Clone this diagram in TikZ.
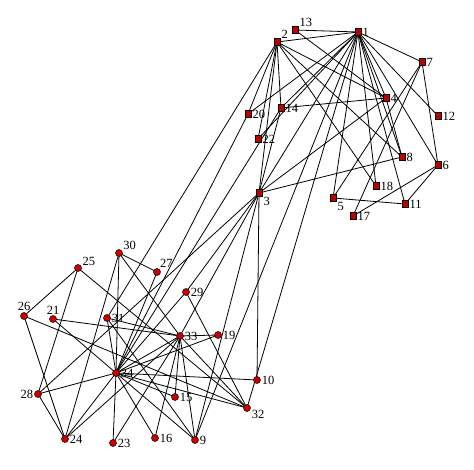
\documentclass[tikz,border=0pt]{standalone}
\usepackage{fontspec}
\setmainfont{Liberation Serif}
\usetikzlibrary{backgrounds}
\begin{document}
\begin{tikzpicture}[x=1pt,y=-1pt,
  sq/.style={draw=black,fill=red!75!black,line width=0.5pt,minimum size=6.5pt,inner sep=0pt,rectangle},
  ci/.style={draw=black,fill=red!80!black,line width=0.5pt,minimum size=7pt,inner sep=0pt,circle},
  every label/.style={font=\fontsize{12.5}{12.5}\selectfont,inner sep=1pt},
  label distance=0pt,
  ed/.style={line width=0.8pt,black}]
\useasboundingbox (0,0) rectangle (474,470);
% faction squares
\node[sq,label={right:1}] (n1) at (358,32) {};
\node[sq,label={30:2}] (n2) at (277,42) {};
\node[sq,label={below right:3}] (n3) at (259,193) {};
\node[sq,label={right:4}] (n4) at (386,98) {};
\node[sq,label={below right:5}] (n5) at (333,198) {};
\node[sq,label={right:6}] (n6) at (438,165) {};
\node[sq,label={right:7}] (n7) at (422,62) {};
\node[sq,label={right:8}] (n8) at (402,157) {};
\node[sq,label={right:11}] (n11) at (405,204) {};
\node[sq,label={right:12}] (n12) at (438,116) {};
\node[sq,label={30:13}] (n13) at (295,30) {};
\node[sq,label={right:14}] (n14) at (281,108) {};
\node[sq,label={right:17}] (n17) at (353,216) {};
\node[sq,label={right:18}] (n18) at (376,186) {};
\node[sq,label={right:20}] (n20) at (248,114) {};
\node[sq,label={right:22}] (n22) at (258,139) {};
% circles
\node[ci,label={right:9}] (n9) at (195,440) {};
\node[ci,label={right:10}] (n10) at (257,380) {};
\node[ci,label={right:15}] (n15) at (175,397) {};
\node[ci,label={right:16}] (n16) at (155,438) {};
\node[ci,label={right:19}] (n19) at (218,335) {};
\node[ci,label={above:21}] (n21) at (53,319) {};
\node[ci,label={right:23}] (n23) at (113,443) {};
\node[ci,label={right:24}] (n24) at (65,439) {};
\node[ci,label={20:25}] (n25) at (78,268) {};
\node[ci,label={above:26}] (n26) at (24,316) {};
\node[ci,label={60:27}] (n27) at (157,272) {};
\node[ci,label={left:28}] (n28) at (38,394) {};
\node[ci,label={right:29}] (n29) at (186,292) {};
\node[ci,label={30:30}] (n30) at (119,253) {};
\node[ci,label={right:31}] (n31) at (107,318) {};
\node[ci,label={-15:32}] (n32) at (247,408) {};
\node[ci,label={right:33}] (n33) at (180,336) {};
\node[ci,label={right:34}] (n34) at (116,373) {};
\begin{pgfonlayer}{background}
\foreach \a/\b in {1/2,1/3,1/4,1/5,1/6,1/7,1/8,1/9,1/11,1/12,1/13,1/14,1/18,1/20,1/22,1/32,
 2/3,2/4,2/8,2/14,2/18,2/20,2/22,2/31,
 3/4,3/8,3/9,3/10,3/14,3/28,3/29,3/33,
 4/8,4/13,4/14,5/7,5/11,6/7,6/11,6/17,7/17,
 9/31,9/33,9/34,10/34,14/34,15/33,15/34,16/33,16/34,19/33,19/34,20/34,21/33,21/34,23/33,23/34,
 24/26,24/28,24/30,24/33,24/34,25/26,25/28,25/32,26/32,27/30,27/34,28/34,29/32,29/34,
 30/33,30/34,31/33,31/34,32/33,32/34,33/34}
  \draw[ed] (n\a.center) -- (n\b.center);
\end{pgfonlayer}
\end{tikzpicture}
\end{document}
